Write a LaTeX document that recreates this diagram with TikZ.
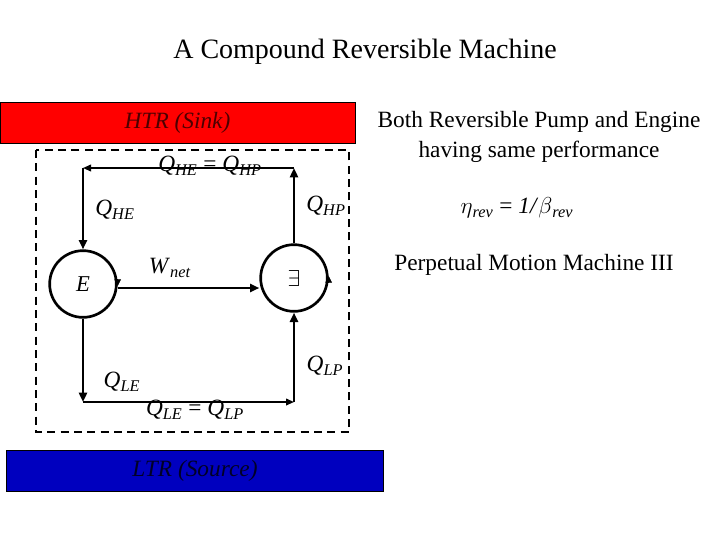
\documentclass[tikz,border=0pt]{standalone}
\usepackage{fontspec}
\setmainfont{Liberation Serif}
\usetikzlibrary{arrows.meta}
\newcommand\qq[2]{\textit{#1}\textsubscript{\textit{#2}}}
\begin{document}
\begin{tikzpicture}[x=0.75pt,y=-0.75pt,
  flow/.style={line width=2pt,-{Triangle[length=7pt,width=6pt]}},
  thin/.style={line width=1.2pt,-{Triangle[length=6pt,width=5pt]}},
  mach/.style={circle,draw,line width=2pt,minimum size=50pt,font=\fontsize{17}{20}\selectfont\itshape},
  lbl/.style={font=\fontsize{17.5}{22}\selectfont},
  res/.style={draw=black,minimum height=31pt,font=\fontsize{17.5}{22}\selectfont\itshape,text=black!70!red}]
\useasboundingbox (0,0) rectangle (720,540);
\node[lbl,font=\fontsize{21}{25}\selectfont] (title) at (365,52) {A Compound Reversible Machine};
\node[res,fill=red,minimum width=266pt] (htr) at (177.5,123) {HTR (Sink)};
\node[res,fill=blue!75!black,text=black!85!blue,minimum width=283pt] (ltr) at (195,471) {LTR (Source)};
\draw[line width=2pt,dash pattern=on 6pt off 4pt] (36,150) rectangle (349,432);
\node[mach] (E) at (83,284) {E};
\node[mach] (P) at (294,278) {$\exists$};
\coordinate (tl) at (83,168);
\coordinate (tr) at (294,168);
\coordinate (bl) at (83,402);
\coordinate (br) at (294,402);
\draw[thin] (tr) -- (tl);
\draw[flow] (tl) -- (E.north);
\draw[flow] (P.north) -- (tr);
\draw[flow] (E.south) -- (bl);
\draw[thin] (bl) -- (br);
\draw[flow] (br) -- (P.south);
\draw[flow] (E.east |- 0,288) -- (P.west |- 0,288);
\draw[-{Triangle[length=5pt,width=5pt]}] (E.east) ++(0,-2) -- ++(0,4);
\draw[-{Triangle[length=5pt,width=5pt]}] (P.east) ++(0,2) -- ++(0,-4);
\node[lbl] (qeq) at (210,166) {\qq{Q}{HE} = \qq{Q}{HP}};
\node[lbl] (qhe) at (115,210) {\qq{Q}{HE}};
\node[lbl] (qhp) at (326,206) {\qq{Q}{HP}};
\node[lbl] (wnet) at (170,268) {\qq{W}{net}};
\node[lbl] (qle) at (122,382) {\qq{Q}{LE}};
\node[lbl] (qlp) at (325,366) {\qq{Q}{LP}};
\node[lbl] (qleq) at (195,410) {\qq{Q}{LE} = \qq{Q}{LP}};
\node[lbl,align=center] (both) at (539,137) {Both Reversible Pump and Engine\\having same performance};
\node[lbl] (eta) at (517,208) {$\eta$\textsubscript{\textit{rev}} = \textit{1/}$\beta$\textsubscript{\textit{rev}}};
\node[lbl] (pmm) at (534,265) {Perpetual Motion Machine III};
\end{tikzpicture}
\end{document}
